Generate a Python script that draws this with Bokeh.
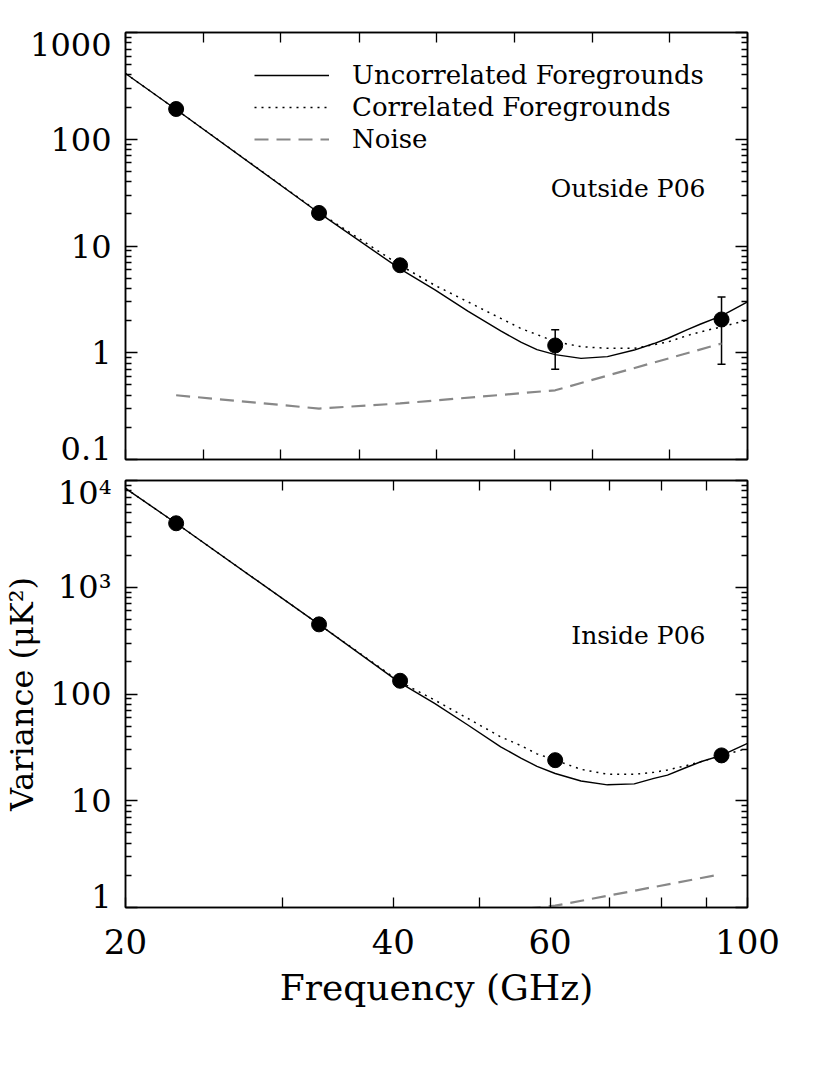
import math
from bokeh.plotting import figure
from bokeh.layouts import column
from bokeh.models import (ColumnDataSource, FixedTicker, LogAxis, Label, Legend, LegendItem,
                          Whisker, TeeHead, CustomJSTickFormatter, Range1d)
from bokeh.embed import file_html
from bokeh.resources import INLINE

FONT = "DejaVu Serif"

# ---------------- data ----------------
freq = [22.8, 33.0, 40.7, 60.8, 93.5]
out_var = [192.0, 20.4, 6.6, 1.17, 2.05]
out_err = [0.0, 0.0, 0.0, 0.47, 1.27]
out_noise = [0.40, 0.30, 0.335, 0.445, 1.22]
in_var = [3975.0, 449.0, 133.0, 24.0, 26.6]
in_noise = [0.95, 0.70, 0.735, 1.04, 2.05]

model_freq = [20, 22.8, 33, 40.7, 44.5, 48.5, 52.8, 55.7, 58, 60.8, 65, 69.6,
              74.6, 78.5, 81.3, 85.6, 88.6, 93.5, 100]
out_uncorr = [413, 190, 20.4, 6.1, 3.9, 2.45, 1.6, 1.25, 1.07, 0.96, 0.885, 0.92,
              1.06, 1.22, 1.36, 1.65, 1.86, 2.22, 2.99]
out_corr = [413, 190, 20.6, 6.6, 4.3, 3.0, 2.1, 1.68, 1.48, 1.27, 1.14, 1.10,
            1.10, 1.19, 1.26, 1.45, 1.57, 1.75, 2.02]
in_uncorr = [8450, 3975, 449, 127, 81.7, 51.2, 32.0, 25.0, 21.0, 18.0, 15.3, 14.1,
             14.4, 16.2, 17.4, 20.7, 23.2, 26.6, 34.4]
in_corr = [8450, 3975, 449, 130, 87.8, 59, 39.7, 32.7, 27.5, 24.0, 19.7, 17.7,
           17.7, 18.5, 19.4, 21.5, 23.2, 26.6, 30.9]

legend_labels = ["Uncorrelated Foregrounds", "Correlated Foregrounds", "Noise"]
panel_labels = ["Outside P06", "Inside P06"]
y_title = "Variance (\u03bcK\u00b2)"
x_title = "Frequency (GHz)"

x_top_ticks = [20, 24.46, 29.9, 36.6, 44.7, 54.7, 66.9, 81.8, 100]
x_bot_ticks = [20, 30, 40, 50, 60, 70, 80, 90, 100]
x_bot_labels = ["20", "", "40", "", "60", "", "", "", "100"]

y_top_major = [0.1, 1, 10, 100, 1000]
y_top_labels = ["0.1", "1", "10", "100", "1000"]
y_bot_major = [1, 10, 100, 1000, 10000]
y_bot_labels = ["1", "10", "100", "10\u00b3", "10\u2074"]

TICK_FS = "32px"
XTICK_FS = "34px"
FRAME_W, FRAME_H = 623, 427
BORDER_L, BORDER_R = 124, 40


def fmt(vals, labs):
    return CustomJSTickFormatter(args=dict(vals=vals, labs=labs), code="""
        for (let i = 0; i < vals.length; i++) {
            if (Math.abs(vals[i] - tick) <= 1e-6 * Math.abs(vals[i])) return labs[i];
        }
        return '';
    """)


def blank():
    return CustomJSTickFormatter(code="return '';")


def minor_list(e0, e1):
    return [m * 10.0 ** e for e in range(e0, e1) for m in range(2, 10)]


def style_axis(ax, major_in, minor_in, show_labels):
    ax.major_tick_in = major_in
    ax.major_tick_out = 0
    ax.minor_tick_in = minor_in
    ax.minor_tick_out = 0
    ax.axis_line_color = "black"
    ax.axis_line_width = 1.5
    ax.major_tick_line_color = "black"
    ax.minor_tick_line_color = "black"
    ax.major_tick_line_width = 1.3
    ax.minor_tick_line_width = 1.3
    ax.major_label_text_font = FONT
    ax.major_label_text_color = "black"
    if not show_labels:
        ax.formatter = blank()
        ax.major_label_text_font_size = "0px"
        ax.major_label_standoff = 0
    else:
        ax.major_label_text_font_size = XTICK_FS


def make_panel(ymin, ymax, bt, bb, yticks, ylabels, yminor, xticks, xlabels, show_x):
    p = figure(width=BORDER_L + FRAME_W + BORDER_R, height=bt + FRAME_H + bb,
               x_axis_type="log", y_axis_type="log",
               x_range=Range1d(20, 100), y_range=Range1d(ymin, ymax),
               output_backend="svg", toolbar_location=None,
               min_border_left=BORDER_L, min_border_right=BORDER_R,
               min_border_top=bt, min_border_bottom=bb)
    p.grid.visible = False
    p.outline_line_color = "black"
    p.outline_line_width = 1.5
    p.background_fill_color = "white"
    p.border_fill_color = "white"

    yt = FixedTicker(ticks=yticks, minor_ticks=yminor)
    xt = FixedTicker(ticks=xticks, minor_ticks=[])

    # inner left axis: tick marks only
    ya = p.yaxis[0]
    ya.ticker = yt
    style_axis(ya, 12, 6, False)

    # outer left axis: labels only; end labels pulled inside the frame like the original
    px_per_dec = FRAME_H / math.log10(ymax / ymin)
    shift = [11.0] + [0.0] * (len(yticks) - 2) + [-12.0]
    label_pos = [t * 10 ** (s / px_per_dec) for t, s in zip(yticks, shift)]
    la = LogAxis(ticker=FixedTicker(ticks=label_pos, minor_ticks=[]),
                 formatter=fmt(label_pos, ylabels))
    la.major_tick_in = 0
    la.major_tick_out = 0
    la.minor_tick_in = 0
    la.minor_tick_out = 0
    la.axis_line_color = None
    la.major_tick_line_color = None
    la.minor_tick_line_color = None
    la.major_label_text_font = FONT
    la.major_label_text_font_size = TICK_FS
    la.major_label_text_color = "black"
    la.major_label_standoff = 14
    p.add_layout(la, "left")

    xa = p.xaxis[0]
    xa.ticker = xt
    style_axis(xa, 10, 0, show_x)
    if show_x:
        xa.formatter = fmt(xticks, xlabels)
        xa.major_label_standoff = 21

    ra = LogAxis(ticker=yt)
    style_axis(ra, 12, 6, False)
    p.add_layout(ra, "right")
    ta = LogAxis(ticker=xt)
    style_axis(ta, 10, 0, False)
    p.add_layout(ta, "above")
    return p, la, xa


# ---------------- top panel: outside P06 ----------------
p1, la1, xa1 = make_panel(0.1, 1000, 32, 10, y_top_major, y_top_labels, minor_list(-1, 3),
                          x_top_ticks, None, False)

r_unc = p1.line(model_freq, out_uncorr, line_color="black", line_width=1.4)
r_cor = p1.line(model_freq, out_corr, line_color="black", line_width=1.5, line_dash="2 5")
r_noi = p1.line(freq, out_noise, line_color="#888888", line_width=2.2, line_dash="14 8")

src1 = ColumnDataSource(dict(x=freq, y=out_var,
                             lo=[v - e for v, e in zip(out_var, out_err)],
                             hi=[v + e for v, e in zip(out_var, out_err)]))
p1.add_layout(Whisker(source=src1, base="x", lower="lo", upper="hi", dimension="height",
                      line_color="black", line_width=1.5,
                      lower_head=TeeHead(size=8, line_color="black", line_width=1.5),
                      upper_head=TeeHead(size=8, line_color="black", line_width=1.5)))
p1.scatter("x", "y", source=src1, size=15, marker="circle", fill_color="black", line_color="black")

legend = Legend(items=[LegendItem(label=legend_labels[0], renderers=[r_unc]),
                       LegendItem(label=legend_labels[1], renderers=[r_cor]),
                       LegendItem(label=legend_labels[2], renderers=[r_noi])],
                location=(129, 304), padding=0, spacing=0, margin=0,
                glyph_width=75, glyph_height=32, label_height=32, label_standoff=23,
                label_text_font=FONT, label_text_font_size="26px", label_text_color="black",
                border_line_color=None, background_fill_alpha=0)
p1.add_layout(legend)

p1.add_layout(Label(x=89.7, y=34.8, text=panel_labels[0], text_align="right",
                    text_baseline="alphabetic", text_font=FONT, text_font_size="25px",
                    text_color="black"))

# ---------------- bottom panel: inside P06 ----------------
p2, la2, xa2 = make_panel(1, 10000, 11, 140, y_bot_major, y_bot_labels, minor_list(0, 4),
                          x_bot_ticks, x_bot_labels, True)

p2.line(model_freq, in_uncorr, line_color="black", line_width=1.4)
p2.line(model_freq, in_corr, line_color="black", line_width=1.5, line_dash="2 5")
p2.line(freq, in_noise, line_color="#888888", line_width=2.2, line_dash="14 8")
p2.scatter(freq, in_var, size=15, marker="circle", fill_color="black", line_color="black")

p2.add_layout(Label(x=89.7, y=355, text=panel_labels[1], text_align="right",
                    text_baseline="alphabetic", text_font=FONT, text_font_size="25px",
                    text_color="black"))

xa2.axis_label = x_title
xa2.axis_label_text_font = FONT
xa2.axis_label_text_font_size = "36px"
xa2.axis_label_text_font_style = "normal"
xa2.axis_label_text_color = "black"
xa2.axis_label_standoff = 10

la2.axis_label = y_title
la2.axis_label_text_font = FONT
la2.axis_label_text_font_size = "32px"
la2.axis_label_text_font_style = "normal"
la2.axis_label_text_color = "black"
la2.axis_label_standoff = 6

layout = column(p1, p2, spacing=0)
open("out.html", "w").write(file_html(layout, INLINE))
